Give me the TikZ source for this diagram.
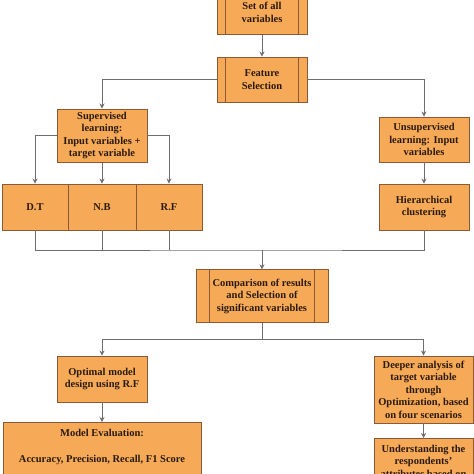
\documentclass[tikz,border=0pt]{standalone}
\usepackage{fontspec}
\setmainfont{Liberation Serif}
\usetikzlibrary{arrows.meta}
\definecolor{boxfill}{HTML}{F6AA57}
\definecolor{boxline}{HTML}{8A5A36}
\definecolor{linkgray}{HTML}{6E6E6E}
\definecolor{textdark}{HTML}{2B1A0E}
\begin{document}
\begin{tikzpicture}[x=1pt,y=-1pt,
    box/.style={draw=boxline,fill=boxfill,line width=0.9pt,align=center,
      text=textdark,inner xsep=1pt,inner ysep=3pt,
      font=\fontsize{10.5}{12.5}\selectfont\bfseries},
    bar/.style={draw=boxline,line width=0.9pt},
    link/.style={draw=linkgray,line width=0.8pt},
    arr/.style={link,-{Stealth[length=5pt,width=5pt]}}]
    \useasboundingbox (0,0) rectangle (474,474);
    \clip (0,0) rectangle (474,474);

    \node[box,minimum width=90,minimum height=45] (all) at (262,12.3) {Set of all\\variables};
    \node[box,minimum width=90,minimum height=45] (feat) at (262,79.5) {Feature\\Selection};
    \node[box,minimum width=90,minimum height=53] (sup) at (102,135.5) {Supervised\\learning:\\Input variables +\\target variable};
    \node[box,minimum width=90,minimum height=45] (unsup) at (424,139.5) {Unsupervised\\learning: Input\\variables};
    \node[box,minimum width=66,minimum height=46] (dt) at (35,207) {D.T};
    \node[box,minimum width=68,minimum height=46] (nb) at (102,207) {N.B};
    \node[box,minimum width=66,minimum height=46] (rf) at (169,207) {R.F};
    \node[box,minimum width=90,minimum height=46] (hier) at (424,207) {Hierarchical\\clustering};
    \node[box,minimum width=132,minimum height=53] (comp) at (262,296.3) {Comparison of results\\and Selection of\\significant variables};
    \node[box,minimum width=90,minimum height=46] (opt) at (102,379) {Optimal model\\design using R.F};
    \node[box,minimum width=198,anchor=north,inner ysep=6.5pt] (eval) at (102,422) {Model Evaluation:\\[14pt]Accuracy, Precision, Recall, F1 Score\\[10pt]\mbox{}};
    \node[box,minimum width=99,minimum height=67] (deep) at (423.5,389.5) {Deeper analysis of\\target variable\\through\\Optimization, based\\on four scenarios};
    \node[box,minimum width=99,anchor=north,inner ysep=6.5pt] (und) at (423.5,438) {Understanding the\\respondents'\\attributes based on};

    \draw[bar] ([xshift=9pt]all.north west) -- ([xshift=9pt]all.south west);
    \draw[bar] ([xshift=-9pt]all.north east) -- ([xshift=-9pt]all.south east);
    \draw[bar] ([xshift=9pt]feat.north west) -- ([xshift=9pt]feat.south west);
    \draw[bar] ([xshift=-9pt]feat.north east) -- ([xshift=-9pt]feat.south east);
    \draw[bar] ([xshift=14pt]comp.north west) -- ([xshift=14pt]comp.south west);
    \draw[bar] ([xshift=-14pt]comp.north east) -- ([xshift=-14pt]comp.south east);

    \coordinate (join) at (262,250);
    \coordinate (split) at (262,339);

    \draw[arr] (all) -- (feat);
    \draw[arr] (feat.west) -| (sup.north);
    \draw[arr] (feat.east) -| (unsup.north);
    \draw[arr] (sup.west) -| (dt.north);
    \draw[arr] (sup.south) -- (nb.north);
    \draw[arr] (sup.east) -| (rf.north);
    \draw[arr] (unsup) -- (hier);
    \draw[link] (dt.south) |- (join) -| (hier.south);
    \draw[link] (nb.south) -- (nb.south |- join);
    \draw[link] (rf.south) -- (rf.south |- join);
    \draw[arr] (join) -- (comp.north);
    \draw[link] (comp.south) -- (split);
    \draw[arr] (split) -| (opt.north);
    \draw[arr] (split) -| (deep.north);
    \draw[arr] (opt) -- (eval);
    \draw[arr] (deep) -- (und);
\end{tikzpicture}
\end{document}
